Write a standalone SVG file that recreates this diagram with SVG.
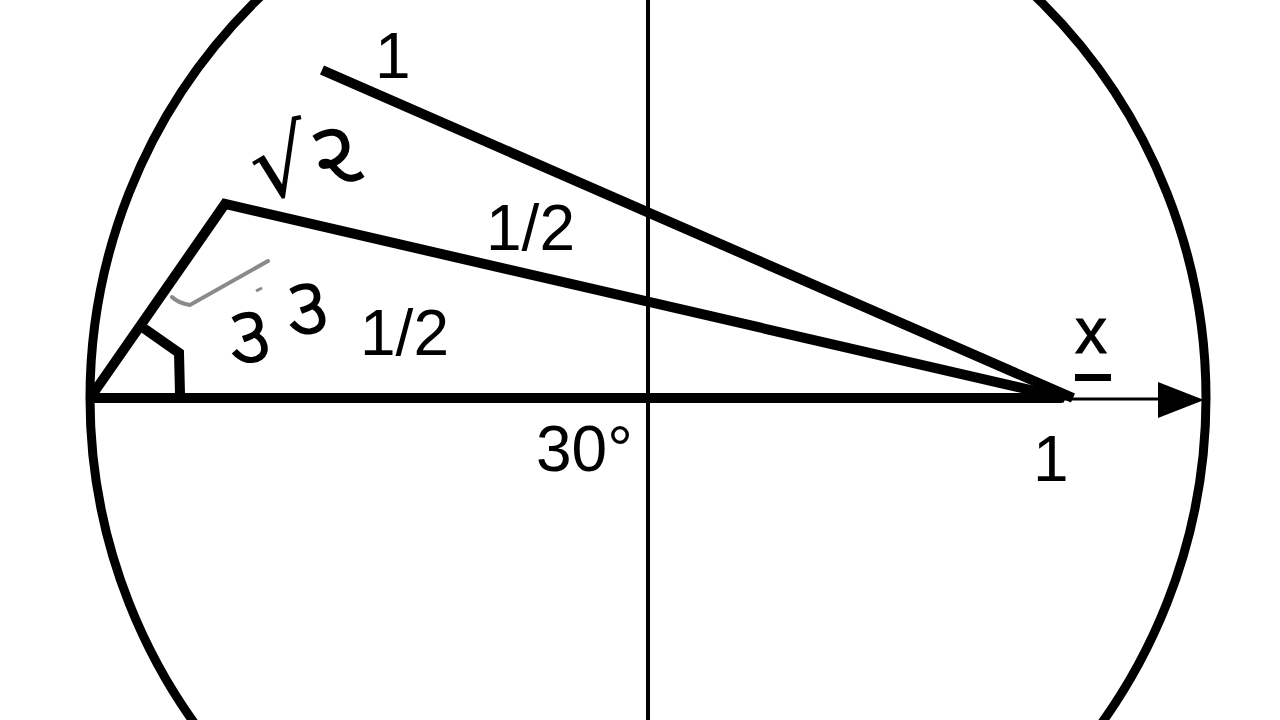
<svg xmlns="http://www.w3.org/2000/svg" width="1280" height="720" viewBox="0 0 1280 720">
<defs>
<style>
.t{font-family:"Liberation Sans",Arial,sans-serif;font-size:64px;fill:#000}
.h{font-family:"Noto Sans Gujarati","Noto Sans","DejaVu Sans",sans-serif;fill:#000;font-weight:normal}
.thick{stroke:#000;stroke-width:10;fill:none;stroke-linejoin:miter}
</style>
</defs>
<rect width="1280" height="720" fill="#fff"/>
<g id="circle"><circle cx="648" cy="398" r="558" fill="none" stroke="#000" stroke-width="9"/></g>
<g id="connectors">
<line x1="648" y1="0" x2="648" y2="720" stroke="#000" stroke-width="4"/>
<line x1="88" y1="398" x2="1062" y2="398" stroke="#000" stroke-width="10"/>
<line x1="1060" y1="399" x2="1160" y2="399" stroke="#000" stroke-width="3"/>
<path d="M1158,382 L1204,400 L1158,418 z" fill="#000"/>
<line x1="322" y1="70" x2="1073" y2="398" class="thick"/>
<polyline points="90,398 225,204 1065,398" class="thick"/>
<polyline points="142,327 179,353 180,394" class="thick" stroke-width="7"/>
<path d="M172,297 Q178,303 190,305 L268,261" fill="none" stroke="#8a8a8a" stroke-width="4" stroke-linecap="round"/>
<line x1="256" y1="291" x2="262" y2="288" stroke="#8a8a8a" stroke-width="3"/>
</g>
<g id="labels">
<text class="t" x="375" y="78">1</text>
<text class="t" x="486" y="250">1/2</text>
<text class="t" x="360" y="355">1/2</text>
<text class="t" x="536" y="471">30°</text>
<text class="t" x="1033" y="481">1</text>
<text class="t" x="1075" y="353" stroke="#000" stroke-width="1">x</text>
<rect x="1075" y="374" width="36" height="7" fill="#000"/>
<text class="h" x="248" y="192" font-size="94" transform="rotate(-12 300 150)">√૨</text>
<text class="h" x="224" y="362" font-size="84" transform="rotate(-10 250 325)">૩</text>
<text class="h" x="282" y="334" font-size="84" transform="rotate(-10 305 298)">૩</text>
</g>
</svg>
